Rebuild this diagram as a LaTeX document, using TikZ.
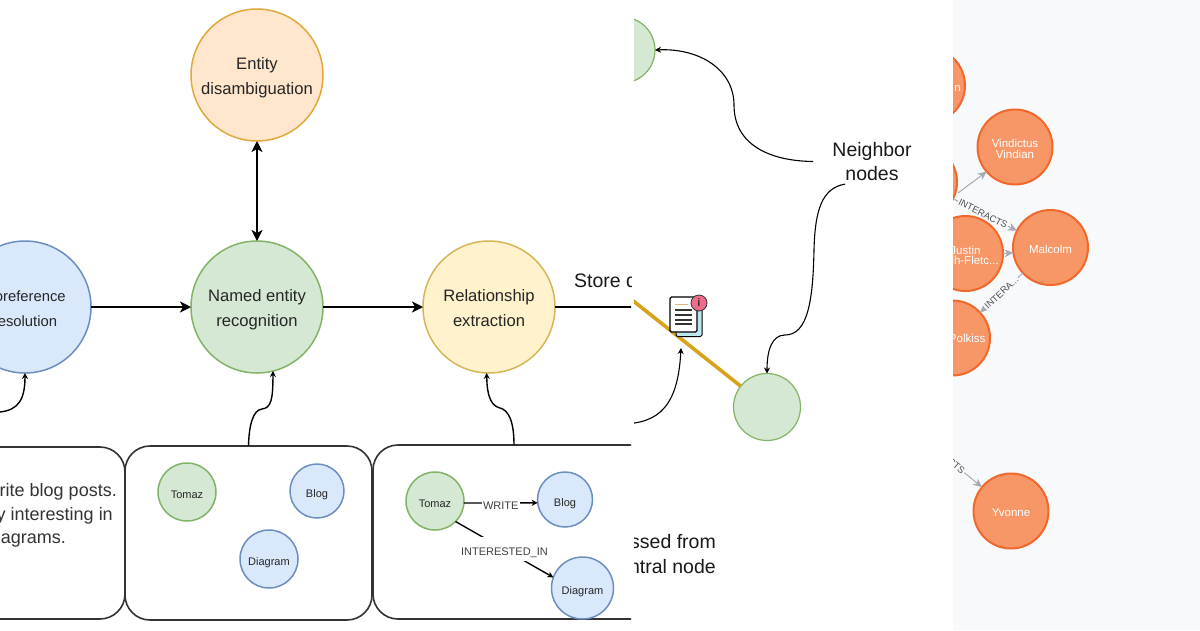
\documentclass[tikz,border=0pt]{standalone}
\usepackage{fontspec}
\setmainfont{Liberation Sans}
\usetikzlibrary{arrows.meta, calc, positioning}
\definecolor{bluefill}{HTML}{DAE8FC}
\definecolor{blueline}{HTML}{6C8EBF}
\definecolor{greenfill}{HTML}{D5E8D4}
\definecolor{greenline}{HTML}{82B366}
\definecolor{orangefill}{HTML}{FFE6CC}
\definecolor{orangeline}{HTML}{E0A93A}
\definecolor{yellowfill}{HTML}{FFF2CC}
\definecolor{yellowline}{HTML}{D6B656}
\definecolor{boxline}{HTML}{333333}
\definecolor{goldline}{HTML}{D8A21B}
\definecolor{panelback}{HTML}{F8F9FB}
\definecolor{graphfill}{HTML}{F79767}
\definecolor{graphline}{HTML}{F0682A}
\definecolor{graphedge}{HTML}{A5ABB6}
\definecolor{graphtext}{HTML}{4A4F57}
\definecolor{docblue}{HTML}{BDE7F0}
\definecolor{docorange}{HTML}{E9B27A}
\definecolor{docred}{HTML}{EE6C8A}
\tikzset{
	bigstep/.style={circle,draw,line width=1.5pt,inner sep=0pt,outer sep=0pt,minimum size=132pt,align=center,text=black!85,font=\fontsize{16.6}{25}\selectfont,text height=38pt,text depth=0pt},
	smallball/.style={circle,draw,line width=1.5pt,inner sep=0pt,outer sep=0pt,font=\fontsize{11}{13}\selectfont,text=black!85,text height=13pt,text depth=0pt},
	panelbox/.style={draw=boxline,rounded corners=25pt,line width=1.6pt,inner sep=0pt,outer sep=0pt},
	bigtext/.style={inner sep=0pt,text=black!90,font=\fontsize{19.5}{23.5}\selectfont},
	boxtext/.style={inner sep=0pt,anchor=east,text=black!80,font=\fontsize{18}{23.5}\selectfont},
	mainarrow/.style={line width=1.7pt,black,arrows={-Stealth[length=11pt,width=11pt,inset=3pt]}},
	curvearrow/.style={line width=1.4pt,black,arrows={-Stealth[length=6pt,width=6pt]}},
	thinarrow/.style={line width=1.1pt,black,arrows={-Stealth[length=6pt,width=6pt]}},
	edgetext/.style={fill=white,inner xsep=1pt,inner ysep=3pt,text=black!75,font=\fontsize{11}{13}\selectfont,text height=15.5pt,text depth=2.5pt},
	person/.style={circle,draw=graphline,fill=graphfill,line width=2pt,inner sep=0pt,outer sep=0pt,minimum size=75pt,align=center,text=white,font=\fontsize{11.5}{10.5}\selectfont},
	oneline/.style={text height=11.5pt,text depth=0pt},
	twolines/.style={text height=22pt,text depth=0pt},
	graphlink/.style={line width=1pt,graphedge,arrows={-Stealth[length=9pt,width=8pt]}},
	linktext/.style={sloped,fill=panelback,inner xsep=1pt,inner ysep=1pt,text=graphtext,font=\fontsize{9.4}{11}\selectfont}
}
\begin{document}
\begin{tikzpicture}[x=1pt,y=-1pt]
	\useasboundingbox (0,0) rectangle (1200,630);
	\fill[white] (0,0) rectangle (1200,630);
	
	%----------------------------------------------------------------
	\begin{scope}
		\clip (0,0) rectangle (631,630);
		
		\node(disambig) [bigstep,draw=orangeline,fill=orangefill] at (257,75) {Entity\\disambiguation};
		\node(ner) [bigstep,draw=greenline,fill=greenfill] at (257,307) {Named entity\\recognition};
		\node(relation) [bigstep,draw=yellowline,fill=yellowfill] at (489,307) {Relationship\\extraction};
		\node(coref) [bigstep,draw=blueline,fill=bluefill,font=\fontsize{14.8}{25}\selectfont] at (25,307) {Coreference\\resolution};
		
		\coordinate (storeend) at (660,307);
		\node(store) [bigtext,anchor=west] at (574,281) {Store d};
		
		\draw [mainarrow] (coref) -- (ner);
		\draw [mainarrow] (ner) -- (relation);
		\draw [line width=1.7pt,black] (relation) -- (storeend);
		\draw [line width=1.7pt,black,arrows={Stealth[length=11pt,width=11pt,inset=3pt]-Stealth[length=11pt,width=11pt,inset=3pt]}] (disambig) -- (ner);
		
		%----------------------------------------------------------------
		\node(textbox) [panelbox,minimum width=290pt,minimum height=172pt,anchor=north east] at (125,447) {};
		\node(ballbox) [panelbox,minimum width=247pt,minimum height=174pt,anchor=north west] at (125,446) {};
		\node(graphbox) [panelbox,minimum width=282pt,minimum height=174pt,anchor=north west] at (373,445) {};
		
		\node(blogline) [boxtext] at (117,492) {write blog posts.};
		\node(interestline) [boxtext] at (113,515.5) {really interesting in};
		\node(diagramline) [boxtext] at (66,539) {diagrams.};
		
		\draw [curvearrow] (textbox.north) .. controls (-20,426) and (-15,414) .. (0,412) .. controls (18,410) and (25,400) .. (coref.south);
		\draw [curvearrow] (ballbox.north) .. controls (249,425) and (253,410) .. (262,409) .. controls (271,408) and (273,400) .. (ner.-76);
		\draw [curvearrow] (graphbox.north) .. controls (514,420) and (508,410) .. (500,408) .. controls (492,406) and (487,398) .. (relation.-92);
		
		%----------------------------------------------------------------
		\node(tomaza) [smallball,draw=greenline,fill=greenfill,minimum size=58pt] at (187,492) {Tomaz};
		\node(bloga) [smallball,draw=blueline,fill=bluefill,minimum size=54pt] at (317,491) {Blog};
		\node(diagrama) [smallball,draw=blueline,fill=bluefill,minimum size=58pt] at (269,559) {Diagram};
		
		\node(tomazb) [smallball,draw=greenline,fill=greenfill,minimum size=58pt] at (435,501) {Tomaz};
		\node(blogb) [smallball,draw=blueline,fill=bluefill,minimum size=55pt] at (565,499.5) {Blog};
		\node(diagramb) [smallball,draw=blueline,fill=bluefill,minimum size=62pt] at (582.5,588) {Diagram};
		
		\draw [curvearrow] (tomazb.-4) -- node[edgetext] {WRITE} (blogb.187);
		\draw [curvearrow] (tomazb.-45) -- node[edgetext] {INTERESTED\_IN} (diagramb.160);
	\end{scope}
	
	%----------------------------------------------------------------
	\begin{scope}
		\clip (634,0) rectangle (952.5,630);
		
		\coordinate (centralpoint) at (569,250);
		\coordinate (docbottom) at (681,348);
		\coordinate (textsource) at (620,424);
		
		\node(topneighbor) [circle,draw=greenline,fill=greenfill,line width=1.2pt,inner sep=0pt,outer sep=0pt,minimum size=66pt] at (622,50) {};
		\node(lowneighbor) [circle,draw=greenline,fill=greenfill,line width=1.2pt,inner sep=0pt,outer sep=0pt,minimum size=67pt] at (767,407) {};
		
		\draw [goldline,line width=3.6pt] (lowneighbor) -- (centralpoint);
		
		\node(neighbor) [bigtext,align=center,inner xsep=19pt,inner ysep=3.5pt] at (872,161.5) {Neighbor\\nodes};
		\node(passedline) [bigtext,anchor=east] at (716,543.5) {passed from};
		\node(centralline) [bigtext,anchor=east] at (716,567) {central node};
		
		\draw [thinarrow] (neighbor.west) .. controls (770,161) and (734,145) .. (734,105) .. controls (734,70) and (700,48) .. (topneighbor.east);
		\draw [thinarrow] ([xshift=-27pt]neighbor.south) .. controls (822,188) and (815,210) .. (814,250) .. controls (813,300) and (808,335) .. (785,335) .. controls (772,335) and (767,350) .. (lowneighbor.north);
		\draw [thinarrow] (textsource) .. controls (660,424) and (678,405) .. (docbottom);
		
		% document icon
		\draw [black,fill=docblue,line width=1pt,rounded corners=1.5pt] (676,307) rectangle (702,336.5);
		\draw [black,fill=white,line width=1.2pt,rounded corners=1.5pt] (670,297) rectangle (697,332);
		\draw [docorange,line width=1.6pt] (675,304.5) -- (688,304.5);
		\foreach \liney in {310,315,320,324}
			\draw [black!80,line width=1.1pt] (675,\liney) -- (692,\liney);
		\node(infomark) [circle,draw=black!80,fill=docred,line width=0.8pt,inner sep=0pt,minimum size=16pt,text=black!80,font=\fontsize{11}{11}\bfseries\selectfont] at (699,303) {i};
	\end{scope}
	
	%----------------------------------------------------------------
	\begin{scope}
		\clip (953,0) rectangle (1200,630);
		\fill[panelback] (953,0) rectangle (1200,630);
		
		\coordinate (vindictusfrom) at (958,193);
		\coordinate (yvonnefrom) at (904,423);
		
		\node(firstperson) [person] at (927.5,85.5) {};
		\node(firsttext) [inner sep=0pt,anchor=east,text=white,font=\fontsize{11.5}{10.5}\selectfont] at (961,88.5) {n};
		\node(secondperson) [person] at (919.5,182) {};
		\node(vindictus) [person,twolines] at (1015,147) {Vindictus\\Vindian};
		\node(malcolm) [person,oneline] at (1050.5,247.5) {Malcolm};
		\node(justin) [person,twolines] at (965.5,253.5) {Justin\\Finch-Fletc...};
		\node(polkiss) [person] at (952.5,338) {Piers Polkiss};
		\node(yvonne) [person,oneline] at (1011,511) {Yvonne};
		
		\draw [graphlink] (vindictusfrom) -- (vindictus.-139);
		\draw [graphlink] (secondperson) -- node[linktext,pos=0.47] {INTERACTS} (malcolm);
		\draw [graphlink] (justin.east) -- (malcolm.188);
		\draw [graphlink] (malcolm) -- node[linktext] {INTERA...} (polkiss);
		\draw [graphlink] (yvonnefrom) -- node[linktext] {INTERACTS} (yvonne);
	\end{scope}
\end{tikzpicture}
\end{document}
